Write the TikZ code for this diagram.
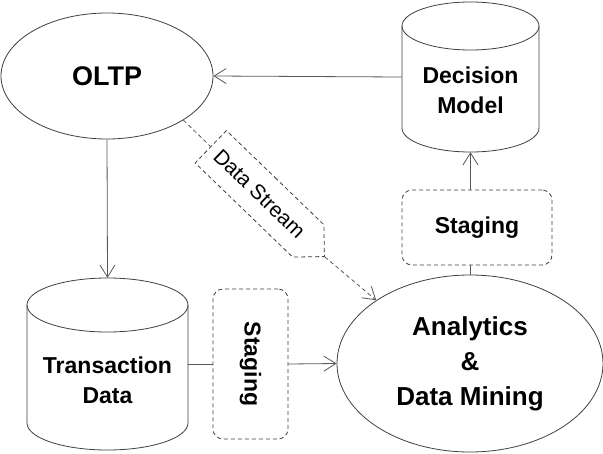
\documentclass[tikz,border=0pt]{standalone}
\usepackage{fontspec}
\setmainfont{Liberation Sans}
\usetikzlibrary{arrows.meta,shapes.geometric,shapes.symbols}
\newcommand\mycyl[5]{%
  \draw[outl] (#1-#3,#2-#4+#5) -- (#1-#3,#2+#4-#5)
    arc[start angle=180,end angle=360,x radius=#3pt,y radius=#5pt]
    -- (#1+#3,#2-#4+#5);
  \draw[outl] (#1,#2-#4+#5) ellipse[x radius=#3pt,y radius=#5pt];
}
\begin{document}
\begin{tikzpicture}[x=1pt,y=-1pt,
  outl/.style={draw=black!75,line width=0.8pt},
  conn/.style={draw=black!65,line width=0.8pt},
  tip/.style={-{Straight Barb[length=12pt,width=15pt]}},
  dsh/.style={dash pattern=on 4pt off 3pt},
  big/.style={font=\fontsize{27}{33}\selectfont\bfseries},
  mid/.style={font=\fontsize{23}{30}\selectfont\bfseries},
  ell/.style={outl,ellipse,inner sep=0pt,align=center},
  box/.style={inner sep=0pt,align=center},
  stg/.style={outl,dsh,rounded corners=10pt,inner sep=0pt,mid}
]
\useasboundingbox[fill=white] (0,0) rectangle (603,453);

% OLTP
\node[ell,big,minimum width=212pt,minimum height=126pt] (oltp) at (107,76) {OLTP};
% Decision model cylinder
\mycyl{470.5}{77}{68.5}{75}{24}
\node[box,minimum width=137pt,minimum height=150pt,
  label={[mid,align=center,yshift=-13pt]center:Decision\\Model}] (dm) at (470.5,77) {};
% Staging (upper)
\node[stg,minimum width=150pt,minimum height=75pt] (st1) at (477,227.5) {Staging};
% Analytics
\node[ell,minimum width=266pt,minimum height=177pt,
  font=\fontsize{26}{35}\selectfont\bfseries] (an) at (470,363.5) {Analytics\\\&\\Data Mining};
% Transaction data cylinder
\mycyl{107.5}{364}{80.5}{86}{27}
\node[box,minimum width=161pt,minimum height=172pt,
  label={[mid,align=center,yshift=-16pt]center:Transaction\\Data}] (td) at (107.5,364) {};
% Staging (lower, vertical)
\node[outl,dsh,rounded corners=10pt,minimum width=75pt,minimum height=150pt] (st2) at (250.5,364) {};
\node[mid,rotate=-90,inner sep=0pt] (st2t) at (st2.center) {Staging};
% Data stream
\node[outl,dsh,signal,signal to=east,signal from=nowhere,signal pointer angle=90,
  minimum width=158pt,minimum height=45pt,inner sep=0pt,anchor=west,rotate=-44,
  font=\fontsize{21}{25}\selectfont] (ds) at (210.5,146.5) {Data Stream};

% connectors
\draw[conn,tip] (oltp.south) -- (td.north);
\draw[conn,tip] (dm.west) -- (oltp.east);
\draw[conn] (td.east) -- (st2.west);
\draw[conn,tip] (st2.east) -- (an.west);
\draw[conn] (an.north) -- (an.north |- st1.south);
\draw[conn,tip] (dm.south |- st1.north) -- (dm.south);
\draw[conn,dsh] (oltp.-30) -- (ds.west);
\draw[conn,dsh,tip] (ds.east) -- (an.146.7);
\end{tikzpicture}
\end{document}
